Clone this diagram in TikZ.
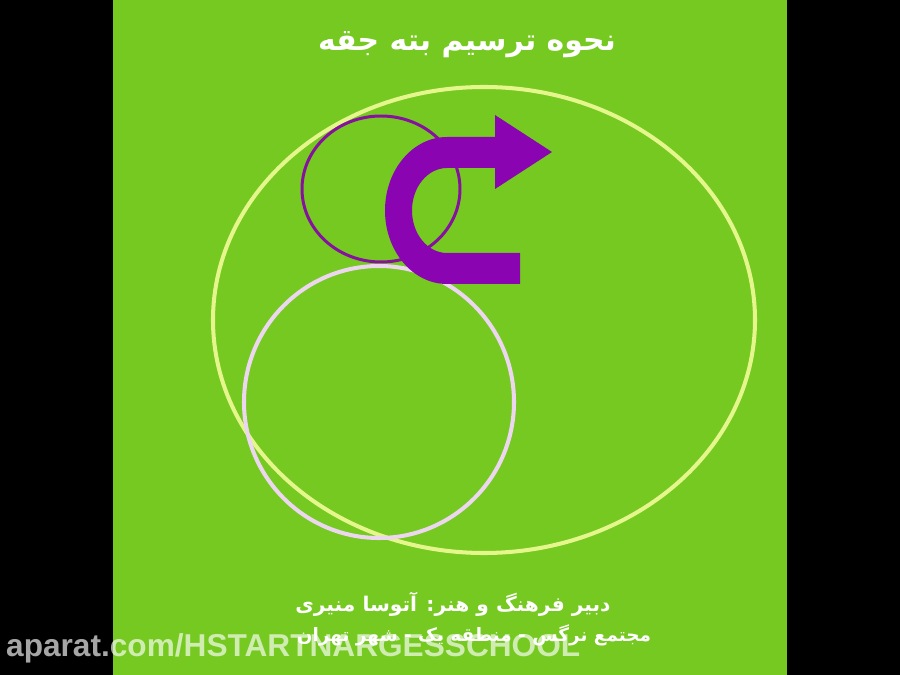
\documentclass[tikz,border=0pt]{standalone}
\usepackage{fontspec}
\newfontfamily\persianfont[Script=Arabic]{DejaVu Sans}
\newfontfamily\markfont{Liberation Sans}
\TeXXeTstate=1
\definecolor{leafgreen}{RGB}{118,201,32}
\definecolor{frameyellow}{RGB}{228,246,140}
\definecolor{budpurple}{RGB}{136,16,160}
\definecolor{arrowpurple}{RGB}{138,4,178}
\definecolor{bodypink}{RGB}{236,214,240}

\begin{document}
\begin{tikzpicture}[x=0.02cm,y=0.02cm]
    % `outline' is for the three guide rings.
    % `persian' is for the white captions.
    \tikzstyle{outline} = [line width=2.3pt]
    \tikzstyle{persian} = [text=white,font=\persianfont\bfseries\fontsize{11.5}{14}\selectfont]
    %
    \fill[black] (0,0) rectangle (900,-675);
    \fill[leafgreen] (113,0) rectangle (787,-675);
    \useasboundingbox (0,0) rectangle (900,-675);
    % Guide rings.
    \draw[outline,draw=frameyellow] (484,-320) ellipse [x radius=271,y radius=233];
    \draw[outline,draw=bodypink] (379,-402) ellipse [x radius=135,y radius=136];
    \draw[line width=1.7pt,draw=budpurple] (381,-189) ellipse [x radius=79,y radius=73];
    % U-turn arrow.
    \fill[arrowpurple] (520,-284) -- (447,-284)
        arc [start angle=270,end angle=90,x radius=62,y radius=73.5]
        -- (495,-137) -- (495,-115) -- (552,-152) -- (495,-189) -- (495,-168)
        -- (447,-168)
        arc [start angle=90,end angle=270,x radius=35,y radius=42.5]
        -- (520,-253) -- cycle;
    % Captions.
    \node[persian,font=\persianfont\bfseries\fontsize{17}{20}\selectfont] (title) at (467,-45)
        {\beginR نحوه ترسیم بته جقه\endR};
    \node[persian] (teacher) at (453,-604)
        {\beginR دبیر فرهنگ و هنر: آتوسا منیری\endR};
    \node[persian,font=\persianfont\bfseries\fontsize{10.5}{13}\selectfont] (school) at (474,-635)
        {\beginR مجتمع نرگس - منطقه یک - شهر تهران\endR};
    \node[anchor=west,text=white,opacity=0.65,font=\markfont\bfseries\fontsize{18}{20}\selectfont]
        (mark) at (0,-648) {aparat.com/HSTARTNARGESSCHOOL};
\end{tikzpicture}
\end{document}
